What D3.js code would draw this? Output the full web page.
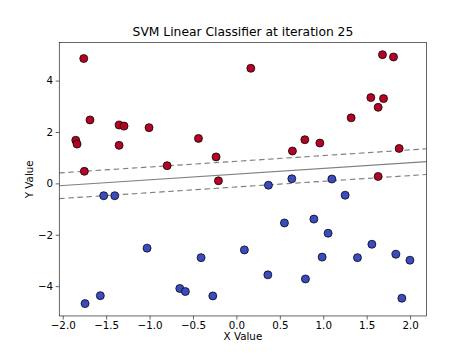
<!DOCTYPE html>
<html><head><meta charset="utf-8">
<script src="https://cdn.jsdelivr.net/npm/d3@7"></script>
<style>body{margin:0;background:#fff}svg{display:block}text{font-family:"DejaVu Sans",sans-serif;fill:#000}</style>
</head><body><svg id="c" width="474" height="355"></svg>
<script>
const redX = [-1.758,-1.686,-1.85,-1.835,-1.351,-1.294,-1.351,-1.006,-1.751,-0.798,-0.437,-0.234,-0.207,0.166,1.682,1.809,1.548,1.694,1.632,1.321,0.788,0.961,0.645,1.874,1.632];
const redY = [4.86,2.47,1.68,1.53,2.27,2.23,1.48,2.17,0.47,0.69,1.75,1.03,0.10,4.48,5.01,4.92,3.34,3.30,2.96,2.55,1.70,1.57,1.26,1.36,0.27];
const blueX = [-1.528,-1.401,-1.029,-0.407,0.092,-0.652,-0.588,-0.272,-1.567,-1.743,0.369,0.638,1.099,1.252,0.553,0.892,1.056,1.560,0.987,1.394,1.836,1.998,0.362,0.795,1.905];
const blueY = [-0.48,-0.48,-2.52,-2.89,-2.59,-4.09,-4.21,-4.38,-4.37,-4.68,-0.07,0.18,0.17,-0.46,-1.54,-1.39,-1.94,-2.37,-2.87,-2.89,-2.76,-2.99,-3.56,-3.72,-4.47];
const xTicks = [-2.0,-1.5,-1.0,-0.5,0.0,0.5,1.0,1.5,2.0];
const yTicks = [-4,-2,0,2,4];
const boundarySlope = 0.222;
const boundaryIntercept = 0.36;
const marginOffset = 0.5;
const title = "SVM Linear Classifier at iteration 25";

const W=474,H=355;
const L=59.25,R=426.6,T=42.6,B=315.95;
const svg=d3.select("#c");
const x=d3.scaleLinear().domain([-2.04,2.19]).range([L,R]);
const y=d3.scaleLinear().domain([-5.16,5.48]).range([B,T]);

svg.append("clipPath").attr("id","clip").append("rect").attr("x",L).attr("y",T).attr("width",R-L).attr("height",B-T);
const g=svg.append("g").attr("clip-path","url(#clip)");

const line=d3.line().x(d=>x(d[0])).y(d=>y(d[1]));
const xd=x.domain();
[[0,"none"],[marginOffset,"5.5,3.6"],[-marginOffset,"5.5,3.6"]].forEach(([off,dash])=>{
  g.append("path").attr("d",line(xd.map(v=>[v,boundarySlope*v+boundaryIntercept+off])))
   .attr("fill","none").attr("stroke","#808080").attr("stroke-width",1.15).attr("stroke-dasharray",dash);
});

const pts=[];
redX.forEach((v,i)=>pts.push({x:v,y:redY[i],c:"#b40426"}));
blueX.forEach((v,i)=>pts.push({x:v,y:blueY[i],c:"#3b4cc0"}));
g.selectAll("circle").data(pts).enter().append("circle")
 .attr("cx",d=>x(d.x)).attr("cy",d=>y(d.y)).attr("r",4)
 .attr("fill",d=>d.c).attr("stroke","#000").attr("stroke-width",0.75);

const xa=svg.append("g").attr("transform",`translate(0,${B})`)
 .call(d3.axisBottom(x).tickValues(xTicks).tickSize(3.6).tickPadding(2.6));
const ya=svg.append("g").attr("transform",`translate(${L},0)`)
 .call(d3.axisLeft(y).tickValues(yTicks).tickFormat(d=>d<0?"\u2212"+Math.abs(d):d).tickSize(3.6).tickPadding(2.6));
xa.selectAll(".tick text").text(d=>(d<0?"\u2212":"")+Math.abs(d).toFixed(1));
[xa,ya].forEach(a=>{a.select(".domain").remove();a.selectAll("text").attr("font-size","10.3px").attr("font-family","DejaVu Sans").attr("fill","#000");a.selectAll("line").attr("stroke","#000").attr("stroke-width",0.6);});
svg.append("rect").attr("x",L).attr("y",T).attr("width",R-L).attr("height",B-T).attr("fill","none").attr("stroke","#000").attr("stroke-width",0.6);

svg.append("text").attr("x",(L+R)/2).attr("y",T-6.3).attr("text-anchor","middle").attr("font-size","12.3px").text(title);
svg.append("text").attr("x",(L+R)/2).attr("y",340).attr("text-anchor","middle").attr("font-size","10.3px").text("X Value");
svg.append("text").attr("transform",`translate(33,${(T+B)/2}) rotate(-90)`).attr("text-anchor","middle").attr("font-size","10.3px").text("Y Value");
</script></body></html>
